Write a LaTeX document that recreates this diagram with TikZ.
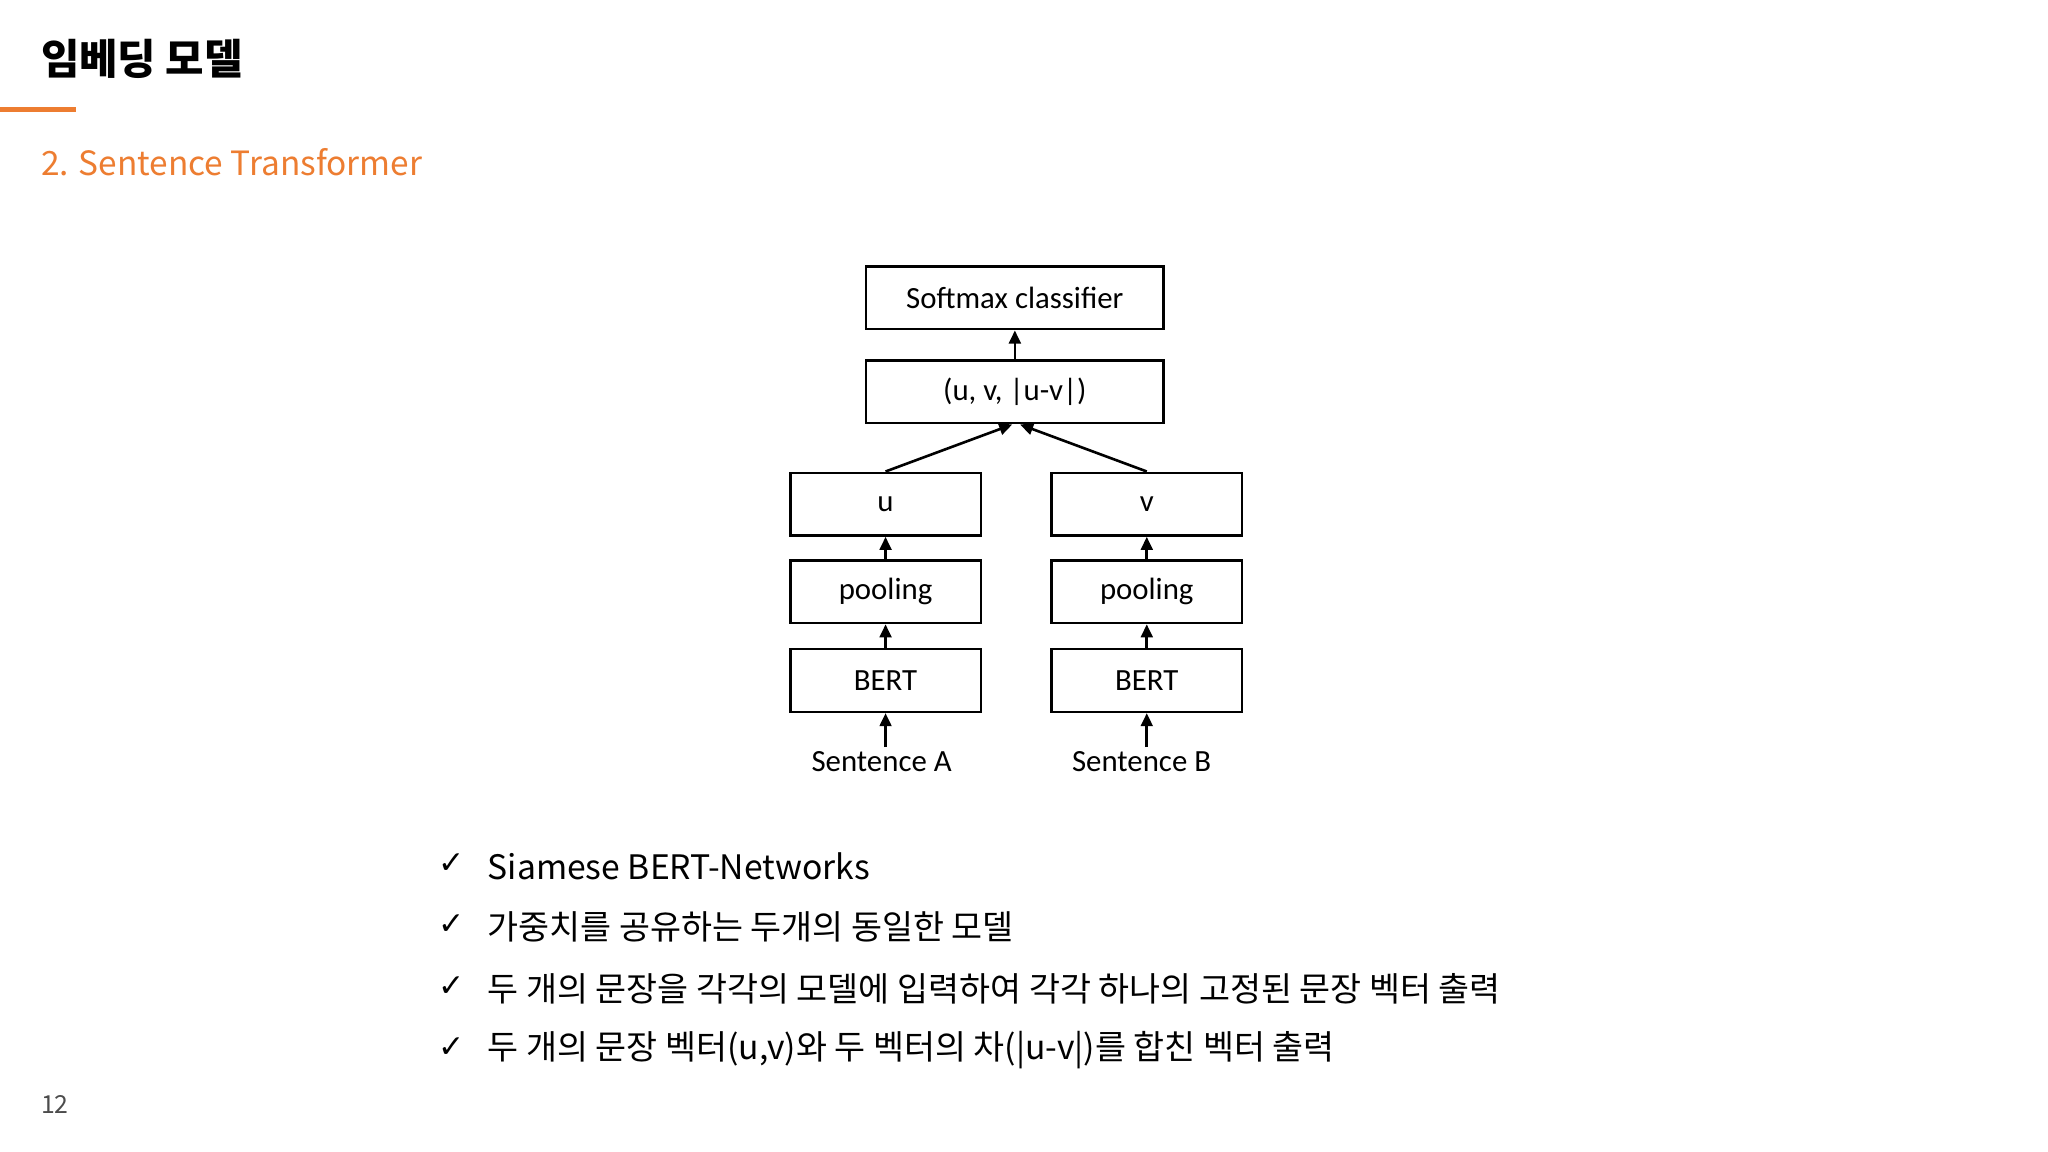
\documentclass[tikz,border=0pt]{standalone}
\usepackage{fontspec}
\setmainfont{Carlito}
\newfontfamily\kr{Noto Sans CJK KR}
\newfontfamily\dv{DejaVu Sans}
\usetikzlibrary{arrows.meta}
\definecolor{orng}{RGB}{237,125,49}
\tikzset{
 bx/.style={draw=black,line width=1pt,minimum width=73pt,minimum height=24pt,inner sep=0pt,font=\fontsize{11.8}{13}\selectfont},
 wb/.style={bx,minimum width=114pt},
 ar/.style={-{Triangle[length=5pt,width=4.5pt]},line width=1pt},
 bul/.style={anchor=west,font=\kr\fontsize{12.9}{15}\selectfont,inner sep=0pt},
 chk/.style={font=\dv\fontsize{12}{14}\selectfont,inner sep=0pt}
}
\begin{document}
\begin{tikzpicture}[x=0.5pt,y=-0.5pt]
\useasboundingbox (0,0) rectangle (1568,882);
\fill[white] (0,0) rectangle (1568,882);
\node[anchor=west,inner sep=0pt,font=\kr\bfseries\fontsize{16}{20}\selectfont] (title) at (31,45) {임베딩 모델};
\fill[orng] (0,82) rectangle (58,86);
\node[anchor=west,inner sep=0pt,text=orng,font=\kr\fontsize{12.8}{16}\selectfont] (sub) at (31,124) {2. Sentence Transformer};
% diagram
\node[wb] (soft) at (777,228) {Softmax classifier};
\node[wb] (cat) at (777,300) {(u, v, |u-v|)};
\node[bx] (u) at (678,386) {u};
\node[bx] (pl) at (678,453) {pooling};
\node[bx] (bl) at (678,521) {BERT};
\node[bx] (v) at (878,386) {v};
\node[bx] (pr) at (878,453) {pooling};
\node[bx] (br) at (878,521) {BERT};
\node[inner sep=0pt,font=\fontsize{11.8}{13}\selectfont] (sa) at (675,583) {Sentence A};
\node[inner sep=0pt,font=\fontsize{11.8}{13}\selectfont] (sb) at (874,583) {Sentence B};
\draw[ar] (cat) -- (soft);
\draw[ar] (u.north) -- ([xshift=-1pt]cat.south);
\draw[ar] (v.north) -- ([xshift=2pt]cat.south);
\draw[ar] (pl) -- (u);
\draw[ar] (bl) -- (pl);
\draw[ar] (pr) -- (v);
\draw[ar] (br) -- (pr);
\draw[ar] (678,572) -- (bl.south);
\draw[ar] (878,572) -- (br.south);
% bullets
\foreach \y/\t in {663/{Siamese BERT-Networks},710/{가중치를 공유하는 두개의 동일한 모델},757/{두 개의 문장을 각각의 모델에 입력하여 각각 하나의 고정된 문장 벡터 출력},804/{두 개의 문장 벡터(u,v)와 두 벡터의 차(|u-v|)를 합친 벡터 출력}}{
 \node[chk] at (346,\y-2) {✓};
 \node[bul] at (373,\y) {\t};
}
\node[inner sep=0pt,text=black!70,font=\kr\fontsize{9.5}{11}\selectfont] (pg) at (42,846) {12};
\end{tikzpicture}
\end{document}
